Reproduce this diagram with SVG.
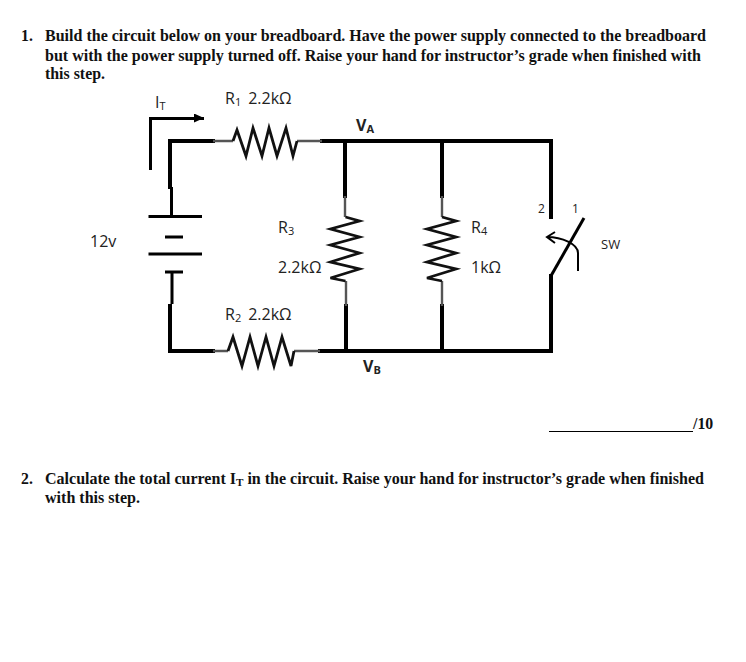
<svg xmlns="http://www.w3.org/2000/svg" width="746" height="662" viewBox="0 0 746 662">
<style>
.t{font-family:"Liberation Serif","Times New Roman",serif;font-weight:bold;font-size:15.800px;fill:#111}
.l{font-family:"Open Sans","Noto Sans",sans-serif;font-size:16px;fill:#222}
.s{font-size:11px}
.b{font-weight:bold}
.w{fill:none;stroke:#000;stroke-width:4;stroke-linecap:square;stroke-linejoin:miter}
.r{fill:none;stroke:#111;stroke-width:2.800;stroke-linejoin:miter}
.n{fill:none;stroke:#555;stroke-width:2.400}
.e{fill:none;stroke:#000;stroke-width:3}
</style>
<defs>
<marker id="ah" markerUnits="userSpaceOnUse" markerWidth="12" markerHeight="10" refX="10" refY="5" orient="auto"><path d="M0 0L10 4.500L0 9z" fill="#000"/></marker>
<path id="zv" d="M0 0L14 4L-15 12L14 20L-15 28L14 36L-15 45L14 52L-15 61L0 64"/>
</defs>
<rect width="746" height="662" fill="#fff"/>
<g id="question-1">
<text class="t" x="21" y="41">1.</text>
<text class="t" x="45" y="41" textLength="661" lengthAdjust="spacingAndGlyphs">Build the circuit below on your breadboard. Have the power supply connected to the breadboard</text>
<text class="t" x="45" y="61" textLength="656" lengthAdjust="spacingAndGlyphs">but with the power supply turned off. Raise your hand for instructor’s grade when finished with</text>
<text class="t" x="45" y="79" textLength="60" lengthAdjust="spacingAndGlyphs">this step.</text>
</g>
<g id="connectors">
<path class="w" d="M213 141H170V187"/>
<path class="w" d="M322 141H551V217"/>
<path class="w" d="M345 141V196"/>
<path class="w" d="M442 141V196"/>
<path class="w" d="M170 306V351H213"/>
<path class="w" d="M320 351H551V276"/>
<path class="w" d="M346 306V351"/>
<path class="w" d="M442 306V351"/>
<path class="n" d="M213 141H233M297 141H322M213 351H228M294 351H320M345 196V217M346 281V306M442 196V217M442 281V306"/>
<path class="e" d="M171.500 187V216M172 272V304"/>
</g>
<g id="it-arrow"><path d="M150.500 170V118.500H204" fill="none" stroke="#000" stroke-width="3" marker-end="url(#ah)"/>
<text class="l" x="155" y="108">I<tspan class="s" dy="2">T</tspan></text></g>
<g id="r1"><path class="r" d="M233 141L237 130L246 156L253 128L262 156L269 128L277 156L286 128L293 156L297 141"/>
<text class="l" x="225" y="104">R<tspan class="s" dy="2">1</tspan><tspan dy="-2" dx="7">2.2kΩ</tspan></text></g>
<g id="r2"><path class="r" d="M228 351L233 337L242 366L250 337L258 366L266 337L274 366L282 337L291 366L294 351"/>
<text class="l" x="225" y="320">R<tspan class="s" dy="2">2</tspan><tspan dy="-2" dx="7">2.2kΩ</tspan></text></g>
<g id="r3"><use href="#zv" x="345.500" y="217" class="r"/>
<text class="l" x="278" y="233">R<tspan class="s" dy="2">3</tspan></text>
<text class="l" x="278" y="273">2.2kΩ</text></g>
<g id="r4"><use href="#zv" x="442" y="217" class="r"/>
<text class="l" x="471" y="233">R<tspan class="s" dy="2">4</tspan></text>
<text class="l" x="471" y="273">1kΩ</text></g>
<g id="battery"><path class="e" d="M148.500 216.500H202M165 237H183M148.500 254H202M165 272H183"/>
<text class="l" x="90" y="247">12v</text></g>
<g id="switch"><path d="M551.500 275L584 218" fill="none" stroke="#000" stroke-width="3"/>
<path d="M578 271V253C578 244 562 237 547 237M555 232L547 237L555 243" fill="none" stroke="#000" stroke-width="2"/>
<text class="l" x="538" y="213" style="font-size:12px">2</text>
<text class="l" x="572" y="213" style="font-size:12px">1</text>
<text class="l" x="601" y="249" style="font-size:13px">SW</text></g>
<g id="va"><text class="l b" x="356" y="131">V<tspan class="s" dy="2">A</tspan></text></g>
<g id="vb"><text class="l b" x="363" y="372">V<tspan class="s" dy="2">B</tspan></text></g>
<g id="grade"><path d="M549 431.500H693" stroke="#000" stroke-width="1" fill="none"/>
<text class="t" x="693" y="429">/10</text></g>
<g id="question-2">
<text class="t" x="21" y="484">2.</text>
<text class="t" x="45" y="484" textLength="659" lengthAdjust="spacingAndGlyphs">Calculate the total current I<tspan font-size="11" dy="2">T</tspan><tspan dy="-2"> in the circuit. Raise your hand for instructor’s grade when finished</tspan></text>
<text class="t" x="45" y="503" textLength="95" lengthAdjust="spacingAndGlyphs">with this step.</text>
</g>
</svg>
